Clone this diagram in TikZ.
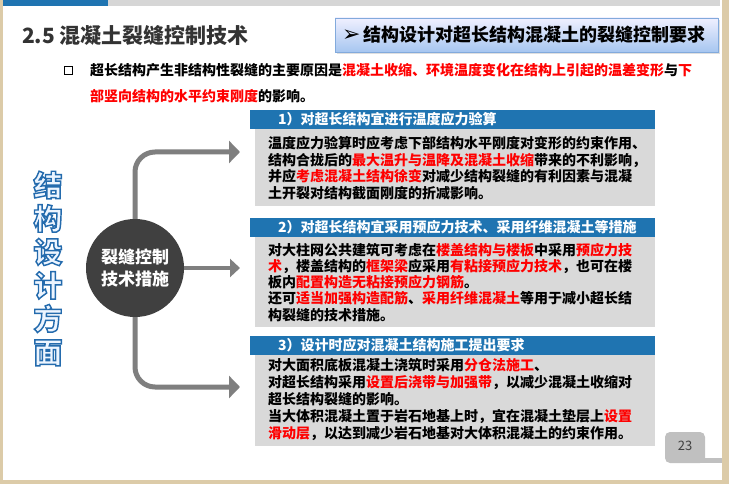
\documentclass[tikz,border=0pt]{standalone}
\usepackage{fontspec}
\setmainfont{Noto Sans CJK SC}
\newfontfamily\symfont{DejaVu Sans}
\newfontfamily\vfont{Noto Sans CJK SC}[BoldFeatures={FakeBold=5}]
\usetikzlibrary{arrows.meta}
\definecolor{hblue}{HTML}{1F74B1}
\definecolor{beige}{HTML}{DCCBA8}
\definecolor{bodygray}{HTML}{D9D9D9}
\definecolor{arrgray}{HTML}{7F7F7F}
\definecolor{titlegray}{HTML}{333333}
\definecolor{circgray}{HTML}{404040}
\definecolor{topgray}{HTML}{D6D6D6}
\definecolor{tabgray}{HTML}{C0C0C0}
\newcommand\rd[1]{\textcolor{red}{#1}}
\newcommand\vc[1]{\special{pdf:bcolor [0.93 0.96 1] [0.14 0.42 0.68]}#1\special{pdf:ecolor}}
\begin{document}
\begin{tikzpicture}[x=1pt,y=-1pt,
  bodytxt/.style={anchor=base west, inner sep=0pt, font=\fontsize{14}{16}\selectfont\bfseries, text=black},
  headtxt/.style={anchor=base west, inner sep=0pt, font=\fontsize{14}{16}\selectfont\bfseries, text=white},
  arr/.style={draw=arrgray, line width=5pt, -{Triangle[length=11pt,width=22pt]}},
  arrthin/.style={draw=arrgray, line width=4pt, -{Triangle[length=10pt,width=18pt]}},
]
\useasboundingbox (0,0) rectangle (729,484);
% background
\fill[beige] (0,0) rectangle (729,484);
\fill[white] (3,0) rectangle (722,480);
\fill[hblue] (3,0) rectangle (108,6);
\fill[topgray] (108,0) rectangle (720,6);

% title
\node[anchor=west, inner sep=0pt, font=\fontsize{21}{24}\selectfont\bfseries, text=titlegray] (title) at (22,35) {2.5 混凝土裂缝控制技术};

% right title box
\fill[gray!25] (337,20) rectangle (720,54);
\shade[top color=blue!6, bottom color={rgb,255:red,166;green,198;blue,240}, draw={rgb,255:red,130;green,170;blue,220}, line width=0.8pt] (335,18) rectangle (718,52);
\node[anchor=west, inner sep=0pt, font=\fontsize{18}{20}\selectfont\bfseries, text=black] (subtitle) at (342,35) {{\symfont\fontsize{22}{22}\selectfont ➢}\hspace{3pt}结构设计对超长结构混凝土的裂缝控制要求};

% intro
\draw[line width=1.6pt] (64.5,66.5) rectangle (72.5,74.5);
\node[bodytxt] (intro1) at (90,76) {超长结构产生非结构性裂缝的主要原因是\rd{混凝土收缩、环境温度变化在结构上引起的温差变形}与\rd{下}};
\node[bodytxt] (intro2) at (90,102) {\rd{部竖向结构的水平约束刚度}的影响。};

% vertical text
\node[inner sep=0pt, align=center, font=\vfont\bfseries\fontsize{29}{33.4}\selectfont] (vtext) at (48,268.5)
  {\vc{结}\\\vc{构}\\\vc{设}\\\vc{计}\\\vc{方}\\\vc{面}};

% circle
\node[circle, fill=circgray, minimum size=98pt, inner sep=0pt, align=center, text=white,
      font=\fontsize{17}{22}\selectfont\bfseries] (circ) at (135,268) {裂缝控制\\技术措施};

% boxes
\fill[hblue] (250,110) rectangle (655,129);
\fill[bodygray] (255,129) rectangle (655,206);
\fill[hblue] (250,218) rectangle (655,237);
\fill[bodygray] (255,237) rectangle (655,327);
\fill[hblue] (250,336) rectangle (655,355);
\fill[bodygray] (255,355) rectangle (655,446);

\node[headtxt] (h1) at (278,124.5) {1）对超长结构宜进行温度应力验算};
\node[headtxt] (h2) at (278,232.5) {2）对超长结构宜采用预应力技术、采用纤维混凝土等措施};
\node[headtxt] (h3) at (278,350.5) {3）设计时应对混凝土结构施工提出要求};

\node[bodytxt] (b11) at (268,149) {温度应力验算时应考虑下部结构水平刚度对变形的约束作用、};
\node[bodytxt] (b12) at (268,165.5) {结构合拢后的\rd{最大温升与温降及混凝土收缩}带来的不利影响，};
\node[bodytxt] (b13) at (268,182) {并应\rd{考虑混凝土结构徐变}对减少结构裂缝的有利因素与混凝};
\node[bodytxt] (b14) at (268,198.5) {土开裂对结构截面刚度的折减影响。};

\node[bodytxt] (b21) at (268,255) {对大柱网公共建筑可考虑在\rd{楼盖结构与楼板}中采用\rd{预应力技}};
\node[bodytxt] (b22) at (268,271.3) {\rd{术}，楼盖结构的\rd{框架梁}应采用\rd{有粘接预应力技术}，也可在楼};
\node[bodytxt] (b23) at (268,287.6) {板内\rd{配置构造无粘接预应力钢筋}。};
\node[bodytxt] (b24) at (268,303.9) {还可\rd{适当加强构造配筋}、\rd{采用纤维混凝土}等用于减小超长结};
\node[bodytxt] (b25) at (268,320.2) {构裂缝的技术措施。};

\node[bodytxt] (b31) at (268,370.5) {对大面积底板混凝土浇筑时采用\rd{分仓法施工}、};
\node[bodytxt] (b32) at (268,387.5) {对超长结构采用\rd{设置后浇带与加强带}，以减少混凝土收缩对};
\node[bodytxt] (b33) at (268,404.5) {超长结构裂缝的影响。};
\node[bodytxt] (b34) at (268,421.5) {当大体积混凝土置于岩石地基上时，宜在混凝土垫层上\rd{设置}};
\node[bodytxt] (b35) at (268,438.5) {\rd{滑动层}，以达到减少岩石地基对大体积混凝土的约束作用。};

% arrows
\coordinate (t1) at (240,152);
\coordinate (t2) at (240,268);
\coordinate (t3) at (240,387);
\draw[arr, rounded corners=20pt] (circ.north) |- (t1);
\draw[arrthin] (circ.east) -- (t2);
\draw[arr, rounded corners=20pt] (circ.south) |- (t3);

% page number tab
\fill[tabgray] (700,458) rectangle (722,463);
\fill[tabgray, rounded corners=5pt] (665,432) rectangle (705,463);
\node[font=\fontsize{13}{15}\selectfont, text=circgray, inner sep=0pt] (pnum) at (685,446) {23};
\end{tikzpicture}
\end{document}
